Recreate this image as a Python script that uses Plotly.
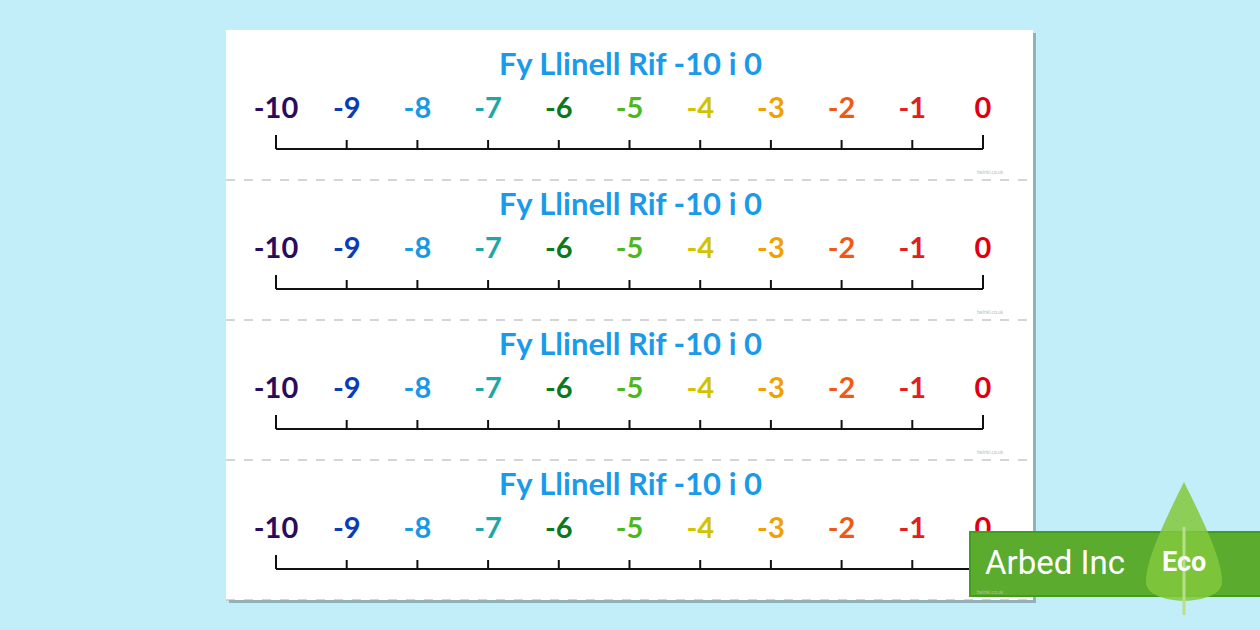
import plotly.graph_objects as go

values = [-10, -9, -8, -7, -6, -5, -4, -3, -2, -1, 0]
labels = ["-10", "-9", "-8", "-7", "-6", "-5", "-4", "-3", "-2", "-1", "0"]
colors = ["#2b0b5c", "#0c3cb4", "#1b98e2", "#1fa6a6", "#0a7a1c", "#4cb81c",
          "#d2c200", "#f2a000", "#ee5a16", "#e0201e", "#e00012"]
title_text = "Fy Llinell Rif -10 i 0"
rows = [149, 289, 429, 569]  # baseline y (pixels)

W, H = 1260, 630
X0, DX = 276, 70.7
xmin = -10 - X0 / DX
xmax = xmin + W / DX

def px(x): return x / W
def py(y): return 1 - y / H

fig = go.Figure()
for r in rows:
    fig.add_trace(go.Scatter(x=[values[0], values[-1]], y=[r, r], mode="lines",
                             line=dict(color="#111", width=2), hoverinfo="skip"))
    xs, ys = [], []
    for i, v in enumerate(values):
        top = r - 14 if i in (0, len(values) - 1) else r - 9
        xs += [v, v, None]; ys += [r, top, None]
    fig.add_trace(go.Scatter(x=xs, y=ys, mode="lines", line=dict(color="#111", width=2),
                             hoverinfo="skip"))
    fig.add_trace(go.Scatter(x=values, y=[r - 38] * len(values), mode="text",
                             text=["<b>" + t + "</b>" for t in labels],
                             textfont=dict(family="Lato", size=29, color=colors),
                             textposition="middle center", hoverinfo="skip"))

shapes = []
shapes.append(dict(type="rect", xref="paper", yref="paper", x0=px(229), x1=px(1036), y0=py(603), y1=py(33),
                   fillcolor="rgba(0,0,0,0.25)", line=dict(width=0), layer="below"))
shapes.append(dict(type="rect", xref="paper", yref="paper", x0=px(226), x1=px(1033), y0=py(600), y1=py(30),
                   fillcolor="white", line=dict(width=0), layer="below"))
for r in rows:
    shapes.append(dict(type="line", xref="paper", yref="paper", x0=px(226), x1=px(1033),
                       y0=py(r + 31), y1=py(r + 31), line=dict(color="#aaa", width=1, dash="dash")))
shapes.append(dict(type="rect", xref="paper", yref="paper", x0=px(970), x1=px(1262), y0=py(596), y1=py(532),
                   fillcolor="#5aab2e", line=dict(color="#3f9e1a", width=2)))
lx, ly = 1184, 482
path = (f"M {px(lx)},{py(ly)} "
        f"C {px(lx+25)},{py(ly+50)} {px(lx+38)},{py(ly+80)} {px(lx+38)},{py(ly+100)} "
        f"C {px(lx+38)},{py(ly+125)} {px(lx-38)},{py(ly+125)} {px(lx-38)},{py(ly+100)} "
        f"C {px(lx-38)},{py(ly+80)} {px(lx-25)},{py(ly+50)} {px(lx)},{py(ly)} Z")
shapes.append(dict(type="path", xref="paper", yref="paper", path=path,
                   fillcolor="rgba(130,200,60,0.85)", line=dict(width=0)))
shapes.append(dict(type="line", xref="paper", yref="paper", x0=px(lx), x1=px(lx), y0=py(ly + 45), y1=py(615),
                   line=dict(color="#b8e08a", width=3)))

annotations = []
for r in rows:
    annotations.append(dict(xref="paper", yref="paper", x=px(630), y=py(r - 86), text="<b>" + title_text + "</b>",
                            showarrow=False, font=dict(family="Lato", size=31, color="#1a9ae8"),
                            xanchor="center", yanchor="middle"))
    annotations.append(dict(xref="paper", yref="paper", x=px(990), y=py(r + 23), text="twinkl.co.uk",
                            showarrow=False, font=dict(family="Lato", size=5, color="#bbb"),
                            xanchor="center", yanchor="middle"))
annotations.append(dict(xref="paper", yref="paper", x=px(983), y=py(562), text="Arbed Inc", showarrow=False,
                        font=dict(family="Roboto", size=33, color="white"), xanchor="left", yanchor="middle"))
annotations.append(dict(xref="paper", yref="paper", x=px(1184), y=py(562), text="<b>Eco</b>", showarrow=False,
                        font=dict(family="Roboto", size=27, color="white"), xanchor="center", yanchor="middle"))

fig.update_layout(width=W, height=H, margin=dict(l=0, r=0, t=0, b=0),
                  paper_bgcolor="#c2eef9", plot_bgcolor="rgba(0,0,0,0)", showlegend=False,
                  xaxis=dict(range=[xmin, xmax], visible=False, fixedrange=True),
                  yaxis=dict(range=[H, 0], visible=False, fixedrange=True),
                  shapes=shapes, annotations=annotations)
fig.write_html("out.html", config={"displayModeBar": False})
with open("out.html") as f:
    html = f.read()
html = html.replace("<head>", "<head><style>body{margin:0;background:#c2eef9;overflow:hidden}</style>", 1)
with open("out.html", "w") as f:
    f.write(html)
